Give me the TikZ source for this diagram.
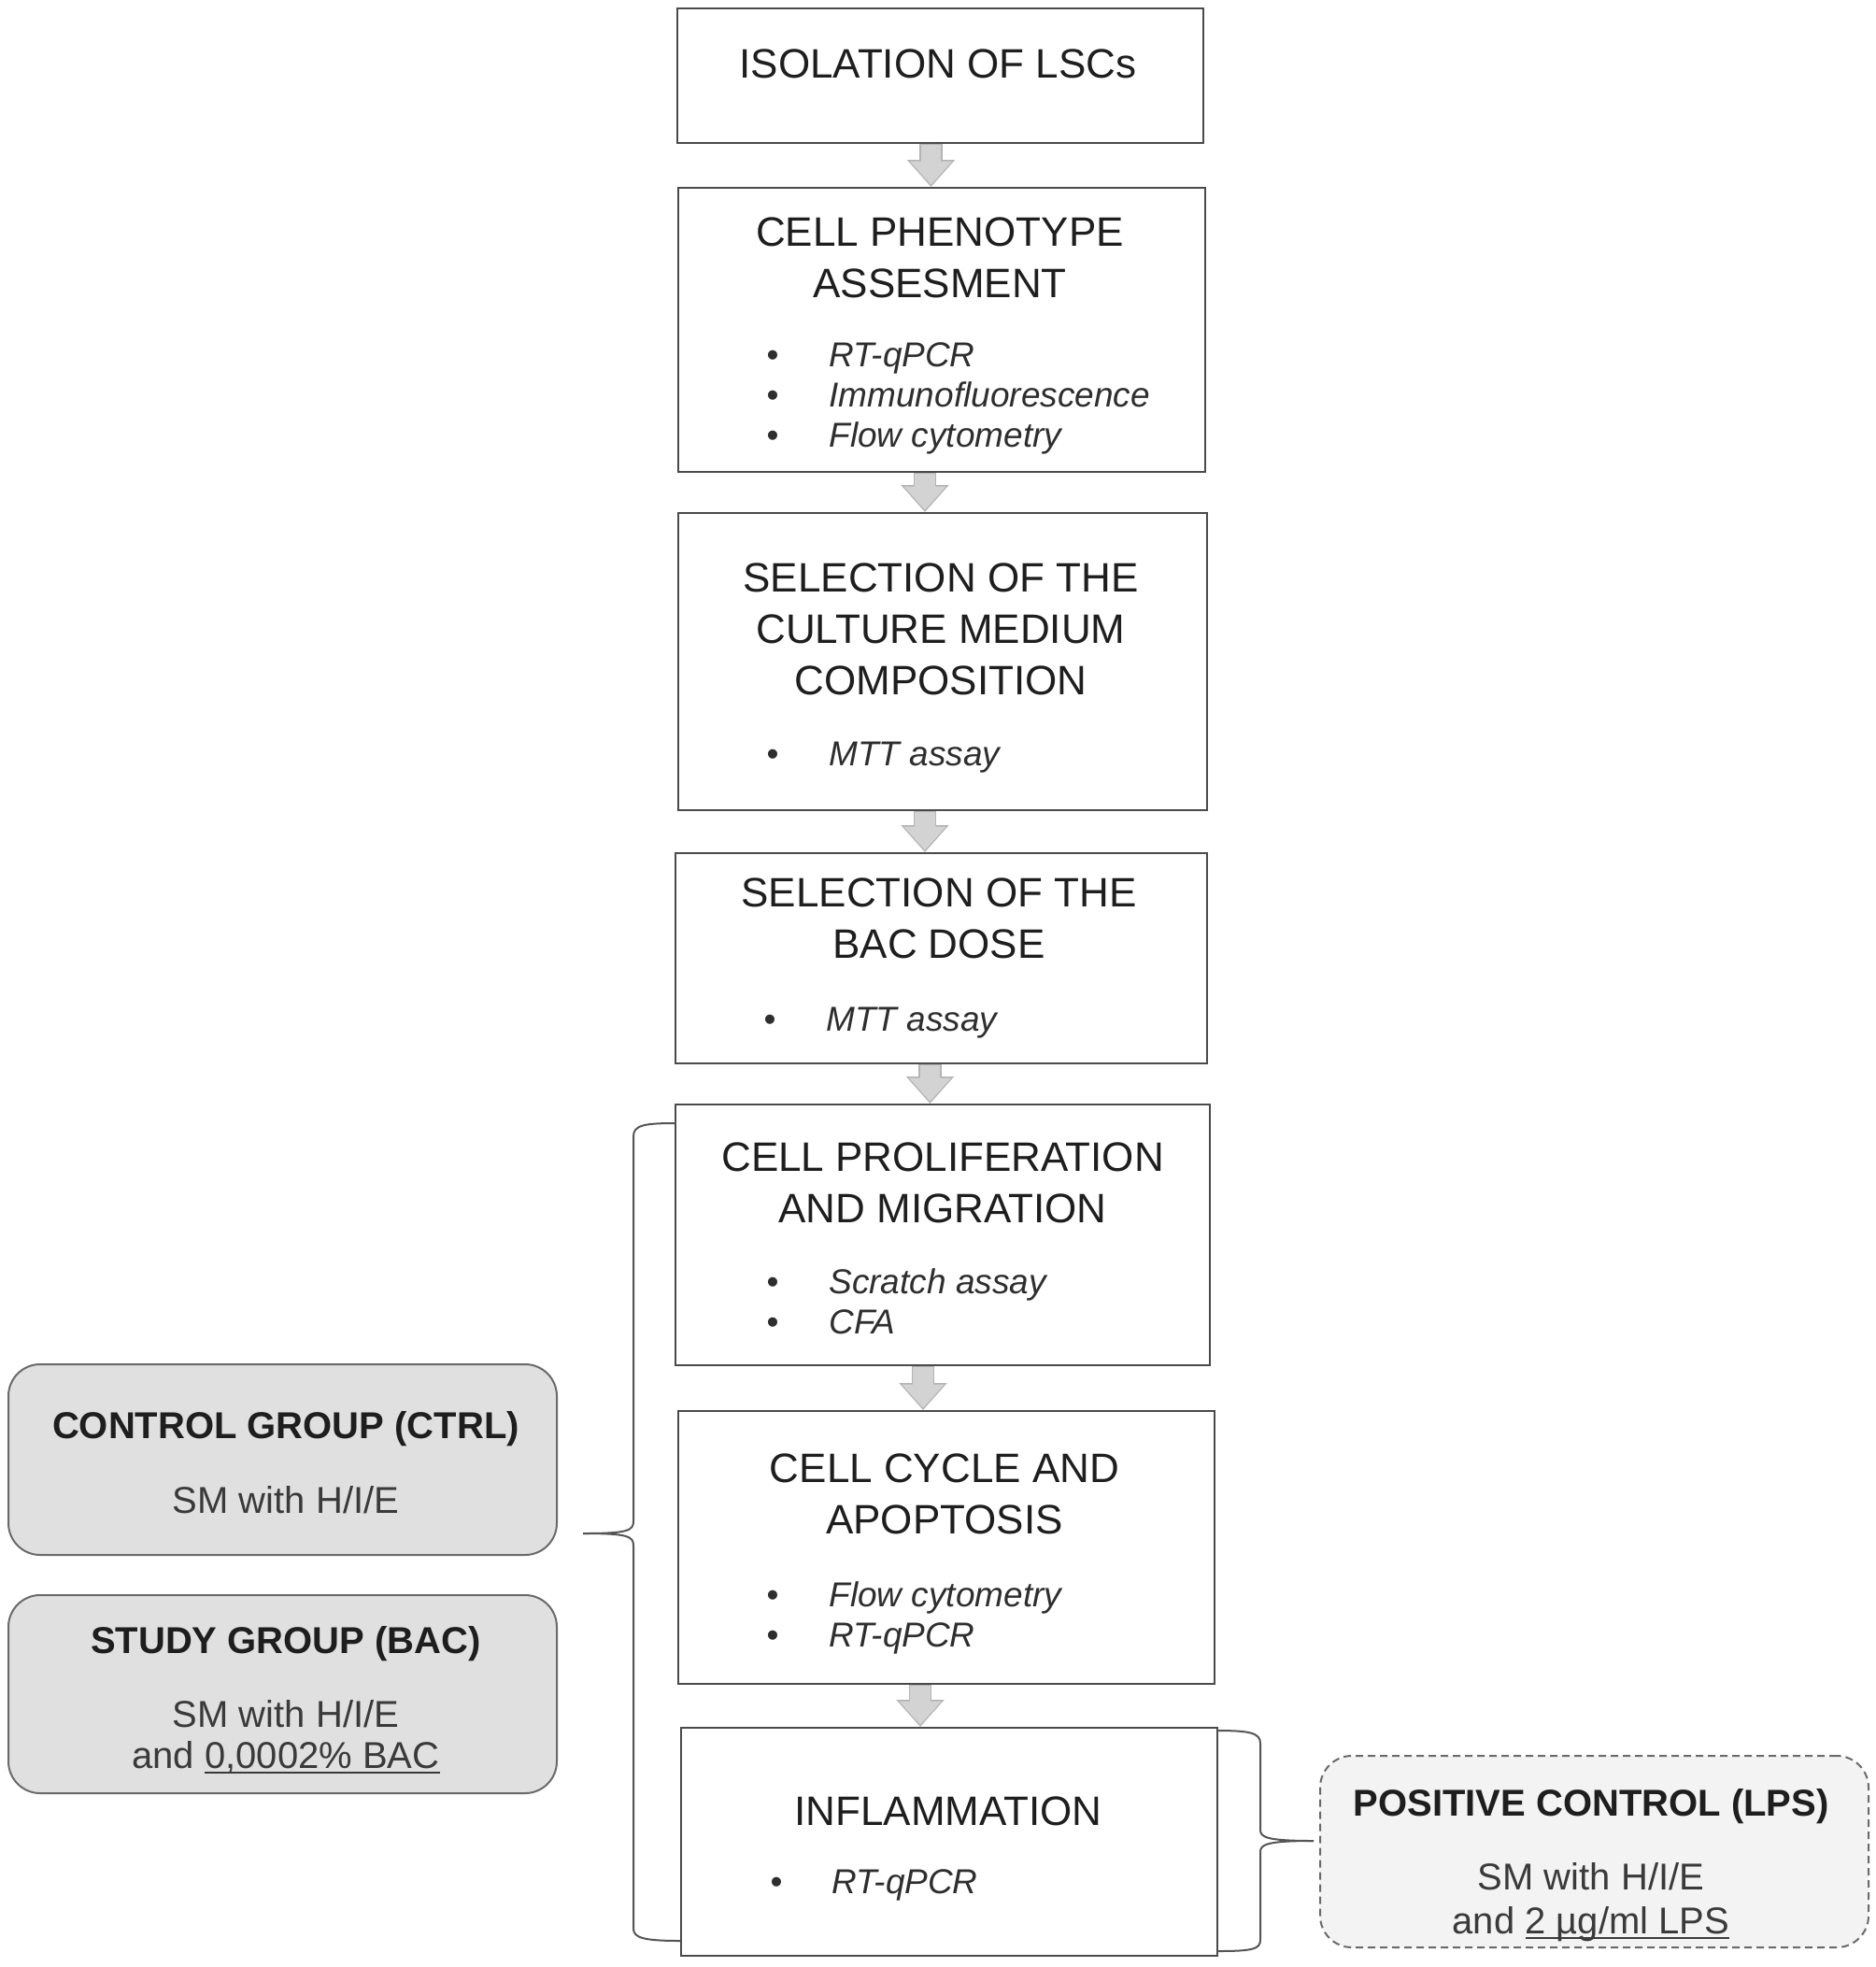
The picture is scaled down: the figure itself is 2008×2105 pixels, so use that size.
\documentclass[tikz,border=0pt]{standalone}
\usepackage{fontspec}
\setmainfont{Liberation Sans}
\usetikzlibrary{arrows.meta}
\definecolor{boxline}{HTML}{4A4A4A}
\definecolor{txt}{HTML}{1E1E1E}
\definecolor{itemtxt}{HTML}{2E2E2E}
\definecolor{grpfill}{HTML}{E0E0E0}
\definecolor{grpline}{HTML}{6A6A6A}
\definecolor{posfill}{HTML}{F3F3F3}
\definecolor{arrowfill}{HTML}{D3D3D3}
\definecolor{arrowedge}{HTML}{B4B4B4}
\definecolor{bracecol}{HTML}{555555}
\definecolor{subtxt}{HTML}{3A3A3A}
\newcommand{\myul}[1]{\setbox0\hbox{#1}\rlap{\raisebox{-3.2pt}{\color{subtxt}\rule{\wd0}{1.1pt}}}\box0}
\tikzset{
 stepbox/.style={draw=boxline, line width=1pt, fill=white, inner sep=0pt},
 head/.style={anchor=base, inner sep=0pt, text=txt, font=\fontsize{22}{26}\selectfont},
 bul/.style={anchor=base, inner sep=0pt, text=itemtxt, font=\fontsize{18.5}{22}\selectfont},
 itm/.style={anchor=base west, inner sep=0pt, text=itemtxt, font=\fontsize{18.5}{22}\selectfont\itshape},
 grpbox/.style={draw=grpline, line width=1pt, fill=grpfill, rounded corners=17pt, inner sep=0pt, minimum width=293.5pt},
 posbox/.style={draw=grpline, line width=1pt, fill=posfill, rounded corners=17pt, dash pattern=on 4pt off 2.5pt, inner sep=0pt, minimum width=293.5pt},
 grphead/.style={anchor=base, inner sep=0pt, text=txt, font=\fontsize{20}{24}\selectfont\bfseries},
 grptxt/.style={anchor=base, inner sep=0pt, text=subtxt, font=\fontsize{20}{24}\selectfont},
 flowedge/.style={draw=arrowedge, line width=12.4pt, -{Triangle[width=24.6pt,length=14.4pt]}},
 flow/.style={draw=arrowfill, line width=10.6pt, shorten >=1.1pt, shorten <=0.7pt, -{Triangle[width=21.8pt,length=12.6pt]}},
 bracestyle/.style={draw=bracecol, line width=1pt},
}
\begin{document}
\begin{tikzpicture}[x=0.5pt,y=-0.5pt]
\useasboundingbox (0,0) rectangle (2008,2105);
% main boxes
\node[stepbox, minimum width=281.5pt, minimum height=72pt] (b1) at (1006.5,81) {};
\node[stepbox, minimum width=282pt, minimum height=152pt] (b2) at (1008,353) {};
\node[stepbox, minimum width=283pt, minimum height=159pt] (b3) at (1009,708) {};
\node[stepbox, minimum width=284.5pt, minimum height=112.5pt] (b4) at (1007.5,1025.5) {};
\node[stepbox, minimum width=286pt, minimum height=139.5pt] (b5) at (1009,1321.5) {};
\node[stepbox, minimum width=287pt, minimum height=146pt] (b6) at (1013,1656) {};
\node[stepbox, minimum width=287pt, minimum height=122pt] (b7) at (1016,1971) {};
% texts box 1
\node[head] (t1) at (1004,83) {ISOLATION OF LSCs};
% box 2
\node[head] (t2a) at (1006,263) {CELL PHENOTYPE};
\node[head] (t2b) at (1006,318) {ASSESMENT};
\node[bul] (u2a) at (827,392) {•};
\node[bul] (u2b) at (827,435) {•};
\node[bul] (u2c) at (827,478) {•};
\node[itm] (i2a) at (887,392) {RT-qPCR};
\node[itm] (i2b) at (887,435) {Immunofluorescence};
\node[itm] (i2c) at (887,478) {Flow cytometry};
% box 3
\node[head] (t3a) at (1007,633) {SELECTION OF THE};
\node[head] (t3b) at (1007,688) {CULTURE MEDIUM};
\node[head] (t3c) at (1007,743) {COMPOSITION};
\node[bul] (u3a) at (827,819) {•};
\node[itm] (i3a) at (887,819) {MTT assay};
% box 4
\node[head] (t4a) at (1005,970) {SELECTION OF THE};
\node[head] (t4b) at (1005,1025) {BAC DOSE};
\node[bul] (u4a) at (824,1103) {•};
\node[itm] (i4a) at (884,1103) {MTT assay};
% box 5
\node[head] (t5a) at (1009,1253) {CELL PROLIFERATION};
\node[head] (t5b) at (1009,1308) {AND MIGRATION};
\node[bul] (u5a) at (827,1384) {•};
\node[bul] (u5b) at (827,1427) {•};
\node[itm] (i5a) at (887,1384) {Scratch assay};
\node[itm] (i5b) at (887,1427) {CFA};
% box 6
\node[head] (t6a) at (1011,1586) {CELL CYCLE AND};
\node[head] (t6b) at (1011,1641) {APOPTOSIS};
\node[bul] (u6a) at (827,1719) {•};
\node[bul] (u6b) at (827,1762) {•};
\node[itm] (i6a) at (887,1719) {Flow cytometry};
\node[itm] (i6b) at (887,1762) {RT-qPCR};
% box 7
\node[head] (t7a) at (1015,1953) {INFLAMMATION};
\node[bul] (u7a) at (831,2026) {•};
\node[itm] (i7a) at (890,2026) {RT-qPCR};
% arrows
\foreach \a/\b/\s in {b1/b2/-5pt, b2/b3/-9pt, b3/b4/-9.5pt, b4/b5/-6pt, b5/b6/-10.5pt, b6/b7/-14pt}{
  \draw[flowedge] ([xshift=\s]\a.south) -- ([xshift=\s]\a.south |- \b.north);
  \draw[flow] ([xshift=\s]\a.south) -- ([xshift=\s]\a.south |- \b.north);
}
% group boxes
\node[grpbox, minimum height=102pt] (ctrl) at (302.5,1562) {};
\node[grphead] (ctrlh) at (306,1539) {CONTROL GROUP (CTRL)};
\node[grptxt] (ctrlt) at (306,1619) {SM with H/I/E};
\node[grpbox, minimum height=106pt] (study) at (302.5,1813) {};
\node[grphead] (studyh) at (306,1769) {STUDY GROUP (BAC)};
\node[grptxt] (studyt) at (306,1848) {SM with H/I/E};
\node[grptxt] (studyu) at (306,1892) {and \myul{0,0002\% BAC}};
\node[posbox, minimum height=102.5pt] (pos) at (1706.5,1981.5) {};
\node[grphead] (posh) at (1703,1943) {POSITIVE CONTROL (LPS)};
\node[grptxt] (post) at (1703,2022) {SM with H/I/E};
\node[grptxt] (posu) at (1703,2069) {and \myul{2 µg/ml LPS}};
% braces
\coordinate (ltip) at (624,1641);
\coordinate (ltop) at (723,1202);
\coordinate (lbot) at (729,2077);
\draw[bracestyle] (ltop) .. controls (690,1202) and (678,1204) .. (678,1216) -- (678,1628) .. controls (678,1638) and (672,1641) .. (ltip);
\draw[bracestyle] (ltip) .. controls (672,1641) and (678,1644) .. (678,1654) -- (678,2064) .. controls (678,2074) and (690,2077) .. (lbot);
\coordinate (rtip) at (1406,1970);
\coordinate (rtop) at (1303,1852);
\coordinate (rbot) at (1303,2088);
\draw[bracestyle] (rtop) .. controls (1340,1852) and (1349,1855) .. (1349,1866) -- (1349,1958) .. controls (1349,1966) and (1355,1970) .. (rtip);
\draw[bracestyle] (rtip) .. controls (1355,1970) and (1349,1974) .. (1349,1982) -- (1349,2076) .. controls (1349,2086) and (1340,2088) .. (rbot);
\end{tikzpicture}
\end{document}
